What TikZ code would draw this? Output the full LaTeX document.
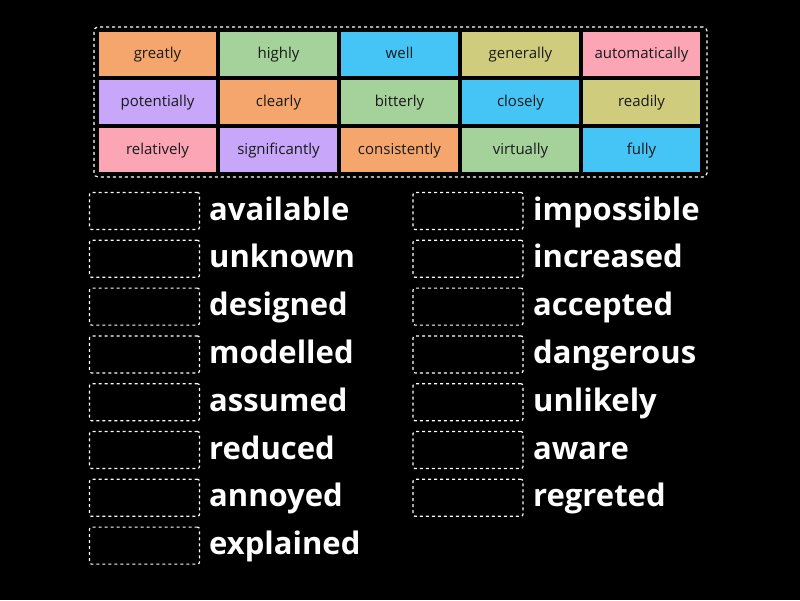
\documentclass[tikz,border=0pt]{standalone}
\usepackage{fontspec}
\setmainfont{Open Sans}
\definecolor{cor}{HTML}{F4A66C}
\definecolor{cgr}{HTML}{A5D19A}
\definecolor{cbl}{HTML}{45C5F5}
\definecolor{col}{HTML}{D0CC7E}
\definecolor{cpk}{HTML}{FBA5B5}
\definecolor{cpu}{HTML}{C8A7FA}
\begin{document}
\begin{tikzpicture}[x=1pt,y=-1pt,
 tile/.style={minimum width=117pt,minimum height=44pt,inner sep=0pt,text height=11pt,text depth=3pt,font=\fontsize{15}{17}\selectfont,text=black!90},
 slot/.style={draw=white,dashed,line width=1.2pt,rounded corners=2pt,minimum width=110pt,minimum height=37pt,inner sep=0pt},
 word/.style={anchor=base west,text=white,font=\bfseries\fontsize{31}{34}\selectfont,inner sep=0pt}]
\fill[black] (0,0) rectangle (800,600);
\node[draw=white,dashed,line width=1.2pt,rounded corners=4pt,minimum width=613pt,minimum height=150pt,inner sep=0pt] (bank) at (400.5,102) {};
\foreach \t/\c [count=\i from 0] in {greatly/cor,highly/cgr,well/cbl,generally/col,automatically/cpk,
 potentially/cpu,clearly/cor,bitterly/cgr,closely/cbl,readily/col,
 relatively/cpk,significantly/cpu,consistently/cor,virtually/cgr,fully/cbl}{
 \pgfmathtruncatemacro{\col}{mod(\i,5)}
 \pgfmathtruncatemacro{\row}{div(\i,5)}
 \node[tile,fill=\c] (t\i) at (157.5+121*\col,54+48*\row) {\t};
}
\foreach \w [count=\i from 0] in {available,unknown,designed,modelled,assumed,reduced,annoyed,explained}{
 \node[slot] (l\i) at (144.5,211+47.8*\i) {};
 \node[word] (lw\i) at (209,220+47.8*\i) {\w};
}
\foreach \w [count=\i from 0] in {impossible,increased,accepted,dangerous,unlikely,aware,regreted}{
 \node[slot] (r\i) at (468,211+47.8*\i) {};
 \node[word] (rw\i) at (533,220+47.8*\i) {\w};
}
\end{tikzpicture}
\end{document}
